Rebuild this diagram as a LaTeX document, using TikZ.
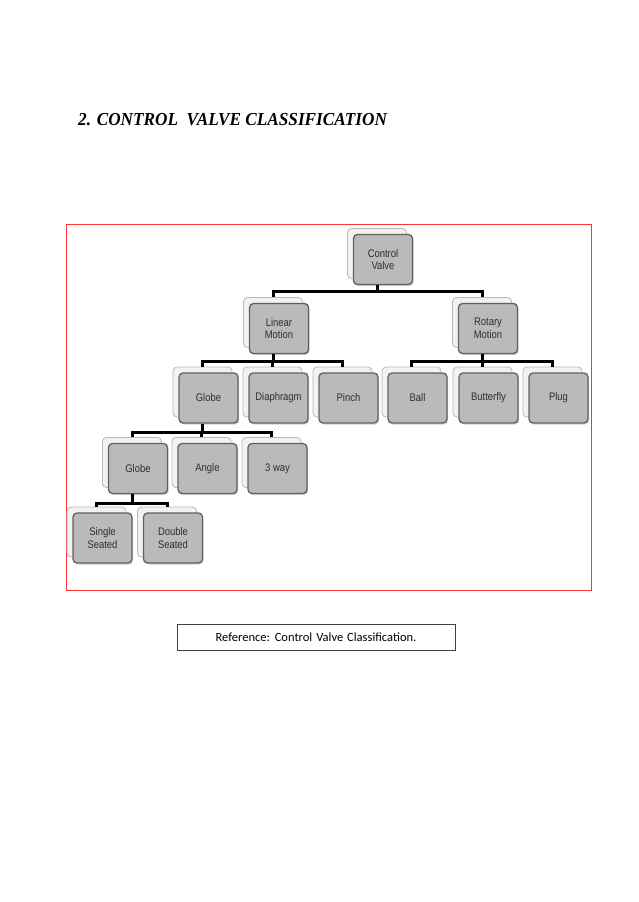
\documentclass[tikz,border=0pt]{standalone}
\usepackage{fontspec}
\setmainfont[FakeStretch=0.94]{Liberation Serif}
\newfontfamily\boxfont[FakeStretch=0.86]{Liberation Sans}
\newfontfamily\capfont[WordSpace=1.4]{Carlito}
\usetikzlibrary{shadows}
\newcommand\vnode[4]{%
  \node[card] (#1-b) at (#2-6,#3-6) {};
  \node[vbox] (#1) at (#2,#3) {#4};}
\begin{document}
\begin{tikzpicture}[x=1pt,y=-1pt,
  card/.style={draw=gray!55, fill=gray!10, rounded corners=4pt, minimum width=59pt, minimum height=50pt, line width=0.8pt, inner sep=0pt},
  vbox/.style={draw=black!62, fill=black!27, rounded corners=4pt, minimum width=59pt, minimum height=50pt, line width=1.3pt,
     font=\boxfont\fontsize{11}{12.5}\selectfont, text=black!82, align=center, inner sep=1pt,
     drop shadow={shadow xshift=1pt, shadow yshift=-1.5pt, opacity=0.35}},
  link/.style={line width=3pt, black}]
\useasboundingbox[fill=white] (0,0) rectangle (638,902);
% title
\node[anchor=west, inner sep=0pt, font=\bfseries\itshape\fontsize{18.3}{20}\selectfont] (title) at (78,120) {2. CONTROL\ \ VALVE CLASSIFICATION};
% red frame
\draw[red!80, line width=1pt] (66,224) rectangle (591,590);
% nodes
\vnode{cv}{383}{259.5}{Control\\Valve}
\vnode{lm}{279}{328.5}{Linear\\Motion}
\vnode{rm}{488}{328.5}{Rotary\\Motion}
\vnode{globe}{208.5}{398}{Globe}
\vnode{diaph}{278.5}{398}{Diaphragm}
\vnode{pinch}{348.5}{398}{Pinch}
\vnode{ball}{417.5}{398}{Ball}
\vnode{bfly}{488.5}{398}{Butterfly}
\vnode{plug}{558.5}{398}{Plug}
\vnode{globeb}{138}{468.5}{Globe}
\vnode{angle}{207.5}{468.5}{Angle}
\vnode{three}{277.5}{468.5}{3 way}
\vnode{single}{102.5}{538}{Single\\Seated}
\vnode{double}{173}{538}{Double\\Seated}
% bus levels
\coordinate (b1) at (0,291);
\coordinate (b2) at (0,361);
\coordinate (b3) at (0,432);
\coordinate (b4) at (0,503);
% connectors
\draw[link] (cv-b |- cv.south) -- (cv-b |- b1);
\draw[link] (lm-b.north) -- (lm-b |- b1) -- (rm-b |- b1) -- (rm-b.north);
\draw[link] (lm-b |- lm.south) -- (lm-b |- b2);
\draw[link] (globe-b.north) -- (globe-b |- b2) -- (pinch-b |- b2) -- (pinch-b.north);
\draw[link] (diaph-b |- b2) -- (diaph-b.north);
\draw[link] (rm-b |- rm.south) -- (rm-b |- b2);
\draw[link] (ball-b.north) -- (ball-b |- b2) -- (plug-b |- b2) -- (plug-b.north);
\draw[link] (bfly-b |- b2) -- (bfly-b.north);
\draw[link] (globe-b |- globe.south) -- (globe-b |- b3);
\draw[link] (globeb-b.north) -- (globeb-b |- b3) -- (three-b |- b3) -- (three-b.north);
\draw[link] (angle-b |- b3) -- (angle-b.north);
\draw[link] (globeb-b |- globeb.south) -- (globeb-b |- b4);
\draw[link] (single-b.north) -- (single-b |- b4) -- (double-b |- b4) -- (double-b.north);
% caption
\draw[black!75, line width=0.8pt] (177,624) rectangle (455,650);
\node[font=\capfont\fontsize{12.5}{14}\selectfont] (cap) at (316,637) {Reference: Control Valve Classification.};
\end{tikzpicture}
\end{document}
